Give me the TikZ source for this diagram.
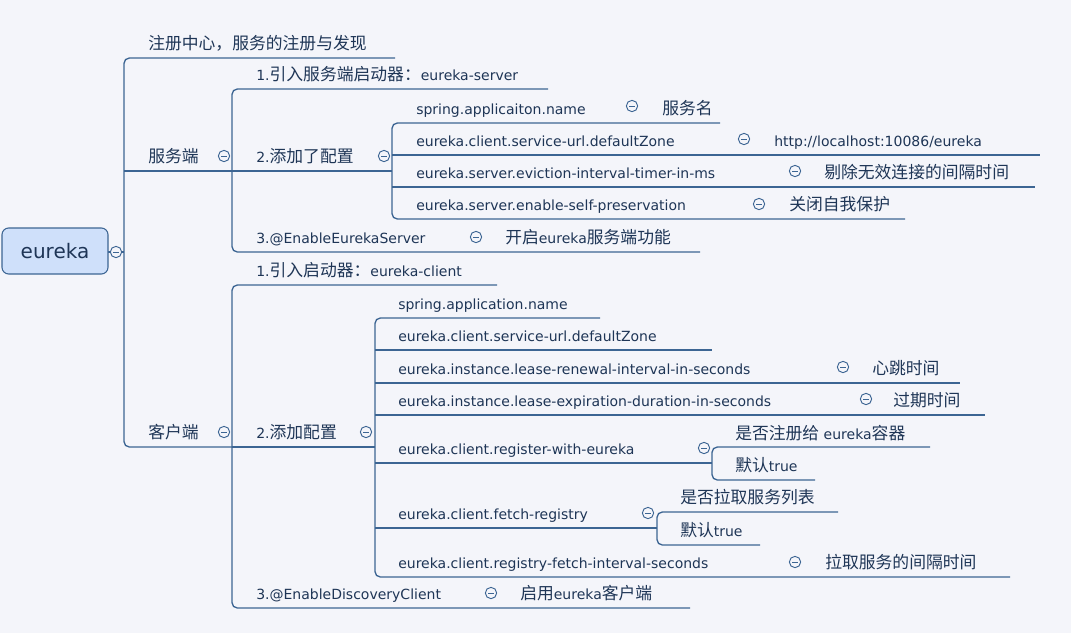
\documentclass[tikz,border=0pt]{standalone}
\usepackage{fontspec}
\setmainfont{DejaVu Sans}
\newfontfamily\cjk[Scale=1.2]{Noto Sans CJK SC}
\newcommand\zh[1]{{\cjk #1}}
\definecolor{bg}{HTML}{F4F5FA}
\definecolor{ln}{HTML}{3C6593}
\definecolor{tx}{HTML}{1E3556}
\definecolor{rootfill}{HTML}{CFE0FA}
\begin{document}
\begin{tikzpicture}[x=0.75pt,y=-0.75pt,
  conn/.style={draw=ln,line width=1pt,rounded corners=4pt},
  lbl/.style={anchor=base west,inner sep=0pt,text=tx,font=\fontsize{10.5pt}{12pt}\selectfont},
  coll/.style={circle,draw=ln,line width=0.7pt,minimum size=8.5pt,inner sep=0pt,fill=bg,
    path picture={\draw[ln,line width=0.7pt] ([xshift=-2.2pt]path picture bounding box.center) -- ([xshift=2.2pt]path picture bounding box.center);}}]
\fill[bg] (0,0) rectangle (1071,633);
\useasboundingbox (0,0) rectangle (1071,633);
% main branches
\draw[conn] (395,58) -- (124,58) -- (124,447) -- (232,447);
\draw[conn] (124,171) -- (232,171);
\draw[conn] (108,252) -- (124,252);
% server
\draw[conn] (548,89) -- (232,89) -- (232,252) -- (700,252);
\draw[conn] (232,171) -- (392,171);
\draw[conn] (720,123) -- (392,123) -- (392,219) -- (905,219);
\draw[conn] (392,155) -- (1040,155);
\draw[conn] (392,187) -- (1035,187);
% client
\draw[conn] (497,285) -- (232,285) -- (232,608) -- (690,608);
\draw[conn] (232,447) -- (375,447);
\draw[conn] (600,318) -- (375,318) -- (375,577) -- (1010,577);
\draw[conn] (375,350) -- (712,350);
\draw[conn] (375,383) -- (960,383);
\draw[conn] (375,415) -- (985,415);
\draw[conn] (375,463) -- (712,463);
\draw[conn] (375,528) -- (657,528);
\draw[conn] (930,447) -- (712,447) -- (712,480) -- (815,480);
\draw[conn] (838,512) -- (657,512) -- (657,545) -- (760,545);
% root
\node[draw=ln,line width=0.8pt,fill=rootfill,rounded corners=5pt,minimum width=79.5pt,minimum height=34.5pt,text=tx,font=\fontsize{15pt}{18pt}\selectfont] (root) at (55,251) {eureka};
\node[coll] (c0) at (116,252) {};
% labels
\node[lbl] (t1) at (148,49) {\zh{注册中心，服务的注册与发现}};
\node[lbl] (s) at (148,162) {\zh{服务端}}; \node[coll] at (224,156) {};
\node[lbl] (k) at (148,438) {\zh{客户端}}; \node[coll] at (224,432) {};
\node[lbl] (s1) at (256,80) {1.\zh{引入服务端启动器：}eureka-server};
\node[lbl] (s2) at (256,162) {2.\zh{添加了配置}}; \node[coll] at (384,156) {};
\node[lbl] (s3) at (256,243) {3.@EnableEurekaServer}; \node[coll] at (476,237) {};
\node[lbl] at (505,243) {\zh{开启}eureka\zh{服务端功能}};
\node[lbl] at (416,114) {spring.applicaiton.name}; \node[coll] at (632,106) {};
\node[lbl] at (662,114) {\zh{服务名}};
\node[lbl] at (416,146) {eureka.client.service-url.defaultZone}; \node[coll] at (744,139) {};
\node[lbl] at (774,146) {http://localhost:10086/eureka};
\node[lbl] at (416,178) {eureka.server.eviction-interval-timer-in-ms}; \node[coll] at (795,171) {};
\node[lbl] at (824,178) {\zh{剔除无效连接的间隔时间}};
\node[lbl] at (416,210) {eureka.server.enable-self-preservation}; \node[coll] at (759,204) {};
\node[lbl] at (789,210) {\zh{关闭自我保护}};
\node[lbl] at (256,276) {1.\zh{引入启动器：}eureka-client};
\node[lbl] at (256,438) {2.\zh{添加配置}}; \node[coll] at (366,432) {};
\node[lbl] at (256,599) {3.@EnableDiscoveryClient}; \node[coll] at (491,593) {};
\node[lbl] at (520,599) {\zh{启用}eureka\zh{客户端}};
\node[lbl] at (398,309) {spring.application.name};
\node[lbl] at (398,341) {eureka.client.service-url.defaultZone};
\node[lbl] at (398,374) {eureka.instance.lease-renewal-interval-in-seconds}; \node[coll] at (843,367) {};
\node[lbl] at (872,374) {\zh{心跳时间}};
\node[lbl] at (398,406) {eureka.instance.lease-expiration-duration-in-seconds}; \node[coll] at (866,399) {};
\node[lbl] at (893,406) {\zh{过期时间}};
\node[lbl] at (398,454) {eureka.client.register-with-eureka}; \node[coll] at (704,448) {};
\node[lbl] at (735,439) {\zh{是否注册给} eureka\zh{容器}};
\node[lbl] at (735,471) {\zh{默认}true};
\node[lbl] at (398,519) {eureka.client.fetch-registry}; \node[coll] at (648,513) {};
\node[lbl] at (680,503) {\zh{是否拉取服务列表}};
\node[lbl] at (680,536) {\zh{默认}true};
\node[lbl] at (398,568) {eureka.client.registry-fetch-interval-seconds}; \node[coll] at (795,562) {};
\node[lbl] at (825,568) {\zh{拉取服务的间隔时间}};
\end{tikzpicture}
\end{document}
